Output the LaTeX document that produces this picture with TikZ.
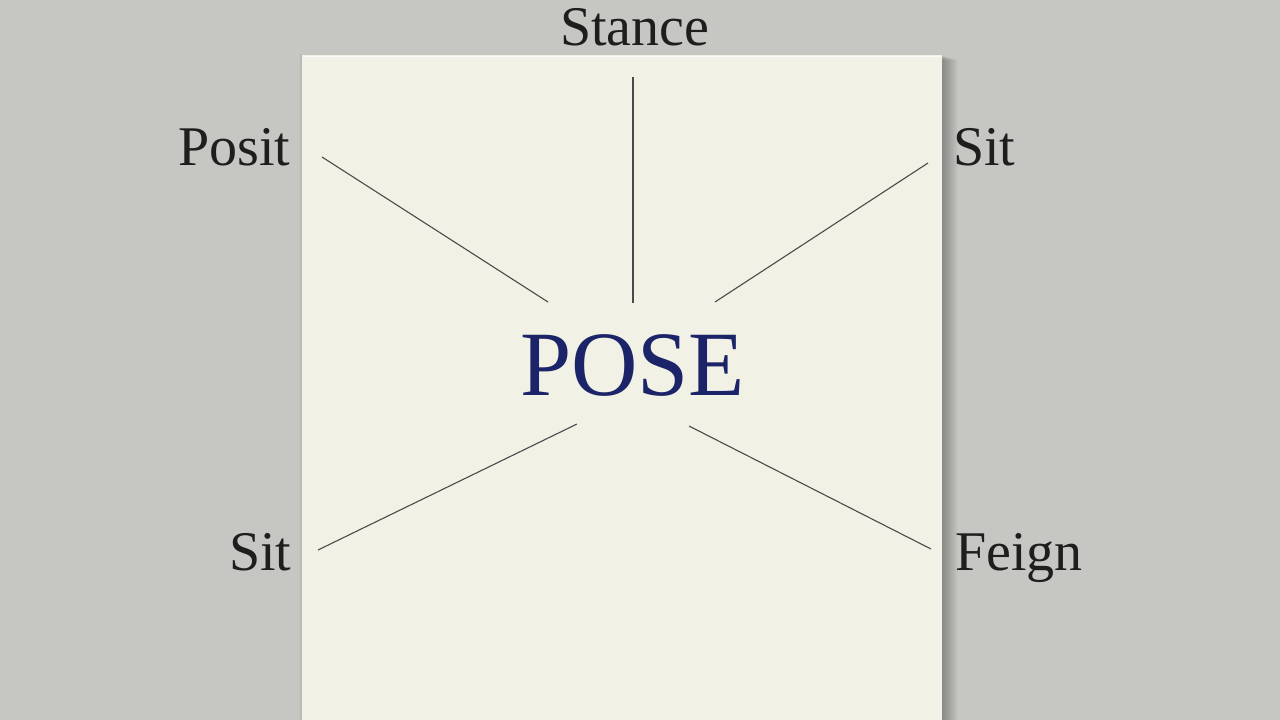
\documentclass[tikz,border=0pt]{standalone}
\usepackage{fontspec}
\setmainfont{Liberation Serif}
\definecolor{bg}{HTML}{C6C6C2}
\definecolor{paper}{HTML}{F1F1E6}
\definecolor{navy}{HTML}{1B2468}
\definecolor{ink}{HTML}{1E1E1E}
\definecolor{rule}{HTML}{4A4A4A}
\begin{document}
\begin{tikzpicture}[x=1pt,y=-1pt,
  lbl/.style={inner sep=0pt,anchor=base west,text=ink,font=\fontsize{56}{60}\selectfont},
  ctr/.style={inner sep=0pt,anchor=base west,text=navy,font=\fontsize{92}{96}\selectfont},
  spoke/.style={draw=rule,line width=1.1pt}]
\useasboundingbox (0,0) rectangle (1280,720);
\fill[bg] (0,0) rectangle (1280,720);
% soft shadow, mostly on the right
\foreach \d in {1,...,16}{
  \fill[black,opacity=0.018] (302+\d*0.2,55+\d*0.3) rectangle (942+\d,730);
}
\fill[black,opacity=0.06] (300,54) rectangle (302,730);
\fill[paper] (302,55) rectangle (942,730);
\draw[white,opacity=0.7,line width=1pt] (303,56) -- (941,56);
% nodes
\node[ctr] (pose) at (520,395) {POSE};
\node[lbl] (stance) at (560,45) {Stance};
\node[lbl] (posit) at (178,165) {Posit};
\node[lbl] (sitr) at (953,165) {Sit};
\node[lbl] (sitl) at (229,570) {Sit};
\node[lbl] (feign) at (955,570) {Feign};
% spoke ends
\coordinate (s1) at (633,77);   \coordinate (c1) at (633,303);
\coordinate (s2) at (322,157);  \coordinate (c2) at (548,302);
\coordinate (s3) at (928,163);  \coordinate (c3) at (715,302);
\coordinate (s4) at (318,550);  \coordinate (c4) at (577,424);
\coordinate (s5) at (931,549);  \coordinate (c5) at (689,426);
\draw[spoke] (c1) -- (s1);
\draw[spoke] (c2) -- (s2);
\draw[spoke] (c3) -- (s3);
\draw[spoke] (c4) -- (s4);
\draw[spoke] (c5) -- (s5);
\end{tikzpicture}
\end{document}
